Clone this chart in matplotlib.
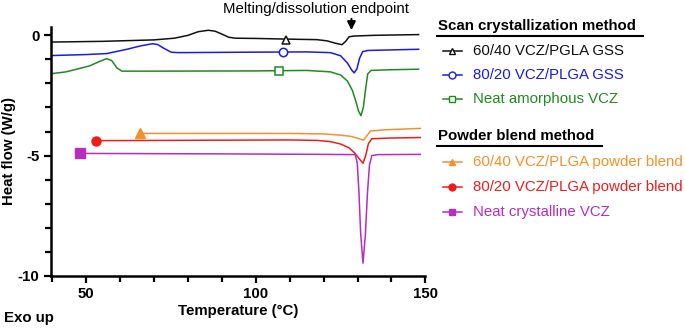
import matplotlib
matplotlib.use("Agg")
import matplotlib.pyplot as plt
from matplotlib.lines import Line2D
from matplotlib.ticker import MultipleLocator

plt.rcParams['font.family'] = ['Liberation Sans', 'DejaVu Sans']

# scan crystallization (GSS) curves
t_6040_gss = [40, 55, 70, 76, 80, 83, 86, 88, 90, 92, 94, 100, 110, 118, 121, 123.5, 125.4, 126.5, 127.5, 129, 135, 148]
h_6040_gss = [-0.28, -0.25, -0.19, -0.12, 0.0, 0.15, 0.21, 0.17, 0.05, -0.08, -0.12, -0.13, -0.16, -0.18, -0.23, -0.33, -0.39, -0.25, -0.06, -0.03, 0.0, 0.03]

t_8020_gss = [40, 50, 56, 62, 66, 69.5, 71, 73, 75, 77, 100, 115, 122, 125, 127, 128.3, 129, 129.8, 130.6, 131.5, 133, 148]
h_8020_gss = [-0.84, -0.80, -0.76, -0.58, -0.44, -0.35, -0.38, -0.55, -0.70, -0.72, -0.70, -0.69, -0.72, -0.85, -1.15, -1.45, -1.56, -1.40, -0.95, -0.68, -0.63, -0.58]

t_amorph = [40, 44, 48, 51, 54, 56, 57.5, 59, 60.5, 70, 100, 115, 122, 125, 127, 128.5, 129.5, 130.3, 131, 131.7, 132.4, 133, 134, 140, 148]
h_amorph = [-1.59, -1.52, -1.38, -1.27, -1.08, -0.97, -1.05, -1.35, -1.49, -1.49, -1.48, -1.46, -1.52, -1.65, -1.9, -2.3, -2.75, -3.15, -3.34, -3.0, -2.2, -1.6, -1.46, -1.43, -1.41]

# powder blend curves
t_6040_pb = [65.8, 90, 110, 120, 125, 128, 130, 131.8, 132.6, 133.8, 138, 148.5]
h_6040_pb = [-4.08, -4.08, -4.08, -4.10, -4.15, -4.20, -4.28, -4.36, -4.20, -3.98, -3.93, -3.87]

t_8020_pb = [53, 90, 110, 118, 122, 125, 127.5, 129.2, 130.6, 131.6, 132.4, 133.2, 134.2, 140, 148.5]
h_8020_pb = [-4.38, -4.36, -4.35, -4.37, -4.42, -4.52, -4.68, -4.90, -5.15, -5.32, -5.00, -4.50, -4.30, -4.27, -4.25]

t_cryst = [48.2, 90, 120, 129.3, 129.9, 130.4, 130.9, 131.6, 132.3, 132.9, 133.5, 134.2, 136, 148.5]
h_cryst = [-4.91, -4.93, -4.95, -4.96, -5.3, -6.5, -8.2, -9.47, -8.3, -6.6, -5.4, -5.0, -4.96, -4.95]

# open marker positions on the GSS curves
mark_gss_t = [109, 108, 106.7]
mark_gss_h = [-0.18, -0.69, -1.48]

labels_scan = ['60/40 VCZ/PGLA GSS', '80/20 VCZ/PLGA GSS', 'Neat amorphous VCZ']
labels_pb = ['60/40 VCZ/PLGA powder blend', '80/20 VCZ/PLGA powder blend', 'Neat crystalline VCZ']
col_scan = ['#111111', '#1a1ae6', '#1f8a1f']
col_pb = ['#f5902a', '#f01c1c', '#b82cc0']
mk_scan = ['^', 'o', 's']
mk_pb = ['^', 'o', 's']

FS = 10.8

fig = plt.figure(figsize=(6.85, 3.28), dpi=100)
ax = fig.add_axes([0.074, 0.159, 0.547, 0.759])

scan = [(t_6040_gss, h_6040_gss), (t_8020_gss, h_8020_gss), (t_amorph, h_amorph)]
for i, (t, h) in enumerate(scan):
    ax.plot(t, h, color=col_scan[i], lw=1.1)
    ax.plot(mark_gss_t[i], mark_gss_h[i], marker=mk_scan[i], ms=6, mfc='white',
            mec=col_scan[i], mew=1.1, zorder=5)

pb = [(t_6040_pb, h_6040_pb), (t_8020_pb, h_8020_pb), (t_cryst, h_cryst)]
for i, (t, h) in enumerate(pb):
    ax.plot(t, h, color=col_pb[i], lw=1.1)
    ax.plot(t[0], h[0], marker=mk_pb[i], ms=6.5, color=col_pb[i], zorder=5)

ax.set_xlim(39.5, 150)
ax.set_ylim(-10, 0.35)
ax.set_xticks([50, 100, 150])
ax.set_yticks([0, -5, -10])
ax.set_yticklabels(['0', '-5', '-10'])
ax.xaxis.set_minor_locator(MultipleLocator(10))
ax.yaxis.set_minor_locator(MultipleLocator(1))
for s in ['top', 'right']:
    ax.spines[s].set_visible(False)
for s in ['left', 'bottom']:
    ax.spines[s].set_linewidth(1.8)
ax.tick_params(which='major', length=5, width=1.6, labelsize=FS, pad=3)
ax.tick_params(which='minor', length=4, width=1.6)
for lab in ax.get_xticklabels() + ax.get_yticklabels():
    lab.set_fontweight('bold')
ax.set_xlabel('Temperature (°C)', fontsize=FS, fontweight='bold', labelpad=2)
ax.set_ylabel('Heat flow (W/g)', fontsize=FS, fontweight='bold', labelpad=1)

ax.annotate('', xy=(128.2, 0.1), xytext=(128.2, 0.8),
            arrowprops=dict(arrowstyle='-|>', lw=1.5, color='k', mutation_scale=12),
            annotation_clip=False)
fig.text(316 / 685, 1 - 9 / 328, 'Melting/dissolution endpoint', fontsize=FS,
         ha='center', va='center')
fig.text(0.006, 0.03, 'Exo up', fontsize=FS, fontweight='bold', va='center')

# hand-made legend
def header(y, text, x1):
    fig.text(0.64, y, text, fontsize=FS, fontweight='bold', va='center')
    fig.add_artist(Line2D([0.638, x1], [y - 0.031, y - 0.031], color='k', lw=1.5,
                          transform=fig.transFigure))

def item(y, text, color, marker, filled):
    fig.add_artist(Line2D([0.647, 0.674], [y, y], color=color, lw=1.1,
                          transform=fig.transFigure))
    fig.add_artist(Line2D([0.660], [y], marker=marker, ms=5, color=color,
                          mfc=color if filled else 'white', mec=color, mew=1,
                          transform=fig.transFigure))
    fig.text(0.690, y, text, fontsize=FS, color=color, va='center')

header(0.921, 'Scan crystallization method', 0.939)
for i, y in enumerate([0.845, 0.771, 0.698]):
    item(y, labels_scan[i], col_scan[i], mk_scan[i], False)
header(0.585, 'Powder blend method', 0.879)
for i, y in enumerate([0.506, 0.430, 0.354]):
    item(y, labels_pb[i], col_pb[i], mk_pb[i], True)

fig.savefig('out.png', dpi=100)
